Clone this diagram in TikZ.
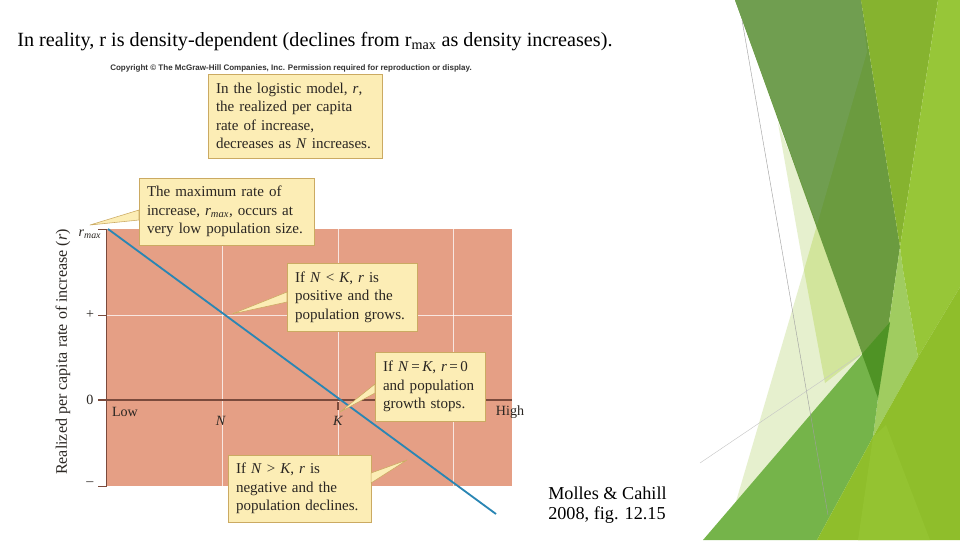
\documentclass[tikz,border=0pt]{standalone}
\usepackage{fontspec}
\setmainfont{Liberation Serif}
\newfontfamily\copyfont{Liberation Sans}
\usepackage{xcolor}

\definecolor{plotfill}{HTML}{E59F85}
\definecolor{boxfill}{HTML}{FCEDB5}
\definecolor{boxedge}{HTML}{CBAA62}
\definecolor{linecol}{HTML}{2A86B4}
\definecolor{axiscol}{HTML}{7A4A3C}
\definecolor{inkcol}{HTML}{2A2622}

\tikzset{
	calloutbox/.style={draw=boxedge, fill=boxfill, line width=0.6pt, inner sep=0.2cm, outer sep=0pt, align=left, font=\fontsize{10.7}{13.1}\selectfont, text=inkcol},
	calloutedge/.style={draw=boxedge, fill=boxfill, line width=0.4pt, line join=round},
	axislabel/.style={font=\fontsize{10}{12}\selectfont, text=inkcol, inner sep=0pt},
	axisline/.style={draw=axiscol, line width=0.7pt},
	gridline/.style={draw=white, opacity=0.75, line width=0.5pt},
	textline/.style={inner sep=0pt, anchor=west, text=black}
}

\begin{document}
\begin{tikzpicture}[x=0.025cm, y=-0.025cm]
	\useasboundingbox (0,0) rectangle (960,540);
	\fill[white] (0,0) rectangle (960,540);

	\fill[color={rgb,255:red,230;green,240;blue,206}] (817,225) -- (778,123) -- (804,270) -- (735,505) -- (862,354) -- cycle;
	\fill[color={rgb,255:red,210;green,229;blue,156}] (817,225) -- (804,270) -- (825,383) -- (862,354) -- cycle;
	\fill[color={rgb,255:red,107;green,155;blue,63}] (735,0) -- (861,0) -- (900,247) -- (878,398) -- cycle;
	\fill[color={rgb,255:red,112;green,158;blue,80}] (735,0) -- (861,0) -- (867,52) -- (817,225) -- cycle;
	\fill[color={rgb,255:red,134;green,179;blue,47}] (861,0) -- (938,0) -- (900,247) -- cycle;
	\fill[color={rgb,255:red,160;green,204;blue,96}] (900,247) -- (903,270) -- (918,357) -- (873,437) -- (878,398) -- cycle;
	\fill[color={rgb,255:red,117;green,180;blue,74}] (890,322) -- (703,540) -- (817,540) -- (873,437) -- (878,398) -- cycle;
	\fill[color={rgb,255:red,79;green,147;blue,37}] (862,354) -- (890,322) -- (878,398) -- cycle;
	\fill[color={rgb,255:red,151;green,198;blue,56}] (938,0) -- (960,0) -- (960,287) -- (918,357) -- (903,270) -- (900,247) -- cycle;
	\fill[color={rgb,255:red,143;green,190;blue,43}] (960,287) -- (960,540) -- (817,540) -- (873,437) -- (918,357) -- cycle;
	\fill[color={rgb,255:red,148;green,195;blue,49}] (873,437) -- (858,540) -- (930,540) -- (886,425) -- cycle;
	\draw[color=gray!75, line width=0.3pt] (742,20) -- (828,515);
	\draw[color=gray!45, line width=0.3pt] (700,463) -- (860,355);

	\node[textline, font=\fontsize{14.35}{16}\selectfont] (title) at (17,41.5) {In reality, r is density-dependent (declines from r\textsubscript{max} as density increases).};
	\node[textline, font=\copyfont\bfseries\fontsize{5.7}{7}\selectfont, text=black!80] (copyright) at (110,68.5) {Copyright © The McGraw-Hill Companies, Inc. Permission required for reproduction or display.};

	\fill[plotfill] (106,229) rectangle (512,486);
	\draw[gridline] (222,229) -- (222,486);
	\draw[gridline] (338,229) -- (338,486);
	\draw[gridline] (453,229) -- (453,486);
	\draw[gridline] (106,315) -- (512,315);

	\draw[axisline] (98,229) -- (106,229) -- (106,486) -- (98,486);
	\draw[axisline] (98,315) -- (106,315);
	\draw[axisline, line width=1pt] (98,400) -- (512,400);
	\draw[axisline, line width=1pt] (338,402) -- (338,410);
	\draw[color=linecol, line width=1.3pt] (108,229) -- (496,514);

	\node[axislabel] (rmax) at (90,234) {\textit{r\textsubscript{max}}};
	\node[axislabel] (plus) at (90,315) {+};
	\node[axislabel] (zero) at (90,400) {0};
	\node[axislabel] (minus) at (90,484) {--};
	\node[axislabel] (low) at (125,412) {Low};
	\node[axislabel] (high) at (510,412) {High};
	\node[axislabel] (nlabel) at (221,421) {\textit{N}};
	\node[axislabel] (klabel) at (338,421) {\textit{K}};
	\node[axislabel, rotate=90, font=\fontsize{11.4}{12}\selectfont] (ylabel) at (63,352) {Realized per capita rate of increase (\textit{r})};

	\node[calloutbox, anchor=north west, text width=3.95cm, minimum height=2.1cm] (boxlogistic) at (208,74) {In the logistic model, \textit{r},\\the realized per capita\\rate of increase,\\decreases as \textit{N} increases.};
	\node[calloutbox, anchor=north west, text width=3.975cm, minimum height=1.675cm] (boxmax) at (139,178) {The maximum rate of\\increase, \textit{r\textsubscript{max}}, occurs at\\very low population size.};
	\node[calloutbox, anchor=north west, text width=2.85cm, minimum height=1.7cm] (boxpos) at (287,263) {If \textit{N} < \textit{K}, \textit{r} is\\positive and the\\population grows.};
	\node[calloutbox, anchor=north west, text width=2.35cm, minimum height=1.725cm] (boxzero) at (375,352) {If \textit{N}\,=\,\textit{K}, \textit{r}\,=\,0\\and population\\growth stops.};
	\node[calloutbox, anchor=north west, text width=3.175cm, minimum height=1.675cm] (boxneg) at (228,455) {If \textit{N} > \textit{K}, \textit{r} is\\negative and the\\population declines.};

	\coordinate (tipmax) at (90,225);
	\coordinate (tippos) at (232,314);
	\coordinate (tipzero) at (340,412);
	\coordinate (tipneg) at (407,460);
	\filldraw[calloutedge] (tipmax) -- (boxmax.west |- 0,210) -- (boxmax.west |- 0,220) -- cycle;
	\filldraw[calloutedge] (tippos) -- (boxpos.west |- 0,292) -- (boxpos.west |- 0,302) -- cycle;
	\filldraw[calloutedge] (tipzero) -- (boxzero.west |- 0,384) -- (boxzero.west |- 0,393) -- cycle;
	\filldraw[calloutedge] (tipneg) -- (boxneg.east |- 0,473) -- (boxneg.east |- 0,483) -- cycle;

	\node[textline, font=\fontsize{12.95}{16}\selectfont] (source) at (548,493) {Molles \& Cahill};
	\node[textline, font=\fontsize{12.95}{16}\selectfont] (sourceyear) at (548,515) {2008, fig. 12.15};
\end{tikzpicture}
\end{document}
